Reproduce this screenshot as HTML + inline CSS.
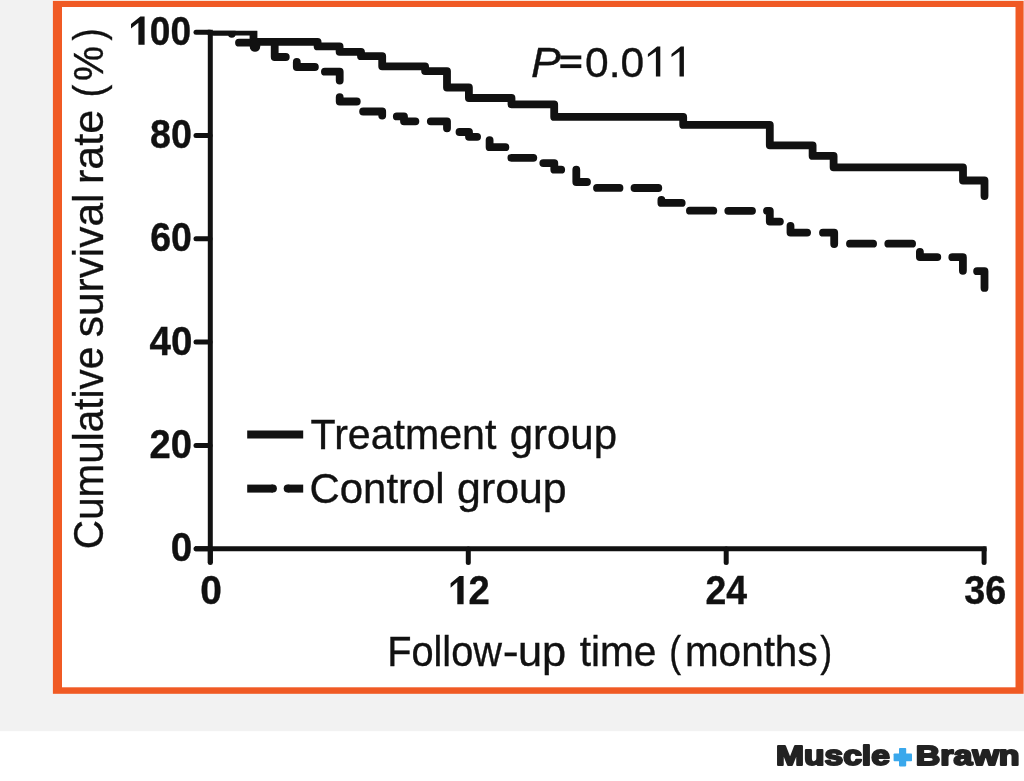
<!DOCTYPE html>
<html lang="en">
<head>
<meta charset="utf-8">
<title>Cumulative survival rate – Treatment vs Control</title>
<style>
  html, body { margin: 0; padding: 0; background: #ffffff; }
  body { width: 1024px; height: 781px; overflow: hidden; position: relative;
         font-family: "Liberation Sans", sans-serif; }
  svg { position: absolute; left: 0; top: 0; display: block; will-change: transform; }
  text { font-family: "Liberation Sans", sans-serif; fill: #111111; stroke: #111111; stroke-width: 0.35px; }
  .b { font-weight: bold; font-size: 41px; stroke: #111111; stroke-width: 0.4px; }
  .one { fill: #111111; stroke: none; }
  .lg text { font-weight: bold; font-size: 27.6px; fill: #222222; stroke: #222222; stroke-width: 2px; stroke-linejoin: round; }
  .b text { stroke-width: 0.4px; }
  .r { font-size: 42px; }
  .ax { stroke: #111111; stroke-width: 5; fill: none; stroke-linecap: butt; }
  .tk { stroke: #111111; stroke-width: 5; fill: none; stroke-linecap: round; }
  .solid { stroke: #111111; stroke-width: 7.8; fill: none; stroke-linejoin: round; stroke-linecap: round; }
  .dash  { stroke: #111111; stroke-width: 7.8; fill: none; stroke-linejoin: round; stroke-linecap: round; }
</style>
</head>
<body>
<svg width="1024" height="781" viewBox="0 0 1024 781">
  <!-- page background -->
  <rect x="0" y="0" width="1024" height="731.4" fill="#f2f2f2"/>
  <rect x="0" y="731.4" width="1024" height="50" fill="#ffffff"/>

  <!-- orange frame + white card -->
  <rect x="53" y="0" width="971" height="1" fill="#faf4ee"/>
  <rect x="52.9" y="0.9" width="970.7" height="692.9" fill="#f05a24"/>
  <rect x="62" y="7" width="953.5" height="680.3" fill="#ffffff"/>

  <!-- axes -->
  <g id="axes">
    <line class="ax" x1="210.3" y1="29.8" x2="210.3" y2="563" />
    <line class="ax" x1="195" y1="548.7" x2="986.6" y2="548.7" />
    <!-- y ticks -->
    <line class="tk" x1="196" y1="32.2"  x2="210" y2="32.2"/>
    <line class="tk" x1="196" y1="135.5" x2="210" y2="135.5"/>
    <line class="tk" x1="196" y1="238.8" x2="210" y2="238.8"/>
    <line class="tk" x1="196" y1="342.1" x2="210" y2="342.1"/>
    <line class="tk" x1="196" y1="445.4" x2="210" y2="445.4"/>
    <line class="tk" x1="196" y1="548.7" x2="210" y2="548.7"/>
    <!-- x ticks -->
    <line class="tk" x1="210.3" y1="549" x2="210.3" y2="562.5"/>
    <line class="tk" x1="468.3" y1="549" x2="468.3" y2="562.5"/>
    <line class="tk" x1="726.2" y1="549" x2="726.2" y2="562.5"/>
    <line class="tk" x1="984.1" y1="549" x2="984.1" y2="562.5"/>
  </g>

  <!-- y tick labels -->
  <g class="b">
    <path class="one" d="M138.4 44.8 V22.8 L131 28.5 V23.9 L140.4 16.4 H144.6 V44.8 Z"/>
    <text transform="translate(149.78,44.9) scale(0.9054,1)">00</text>
    <text transform="translate(150.05,148.0) scale(0.9197,1)">80</text>
    <text transform="translate(150.28,251.2) scale(0.9146,1)">60</text>
    <text transform="translate(149.57,354.6) scale(0.9399,1)">40</text>
    <text transform="translate(149.53,457.7) scale(0.9317,1)">20</text>
    <text transform="translate(170.72,561.4) scale(0.9436,1)">0</text>
  </g>
  <!-- x tick labels -->
  <g class="b">
    <text transform="translate(200.31,604.3) scale(0.9488,1)">0</text>
    <path class="one" d="M457.3 604.2 V582 L450.6 587.8 V583.3 L459.4 575.9 H463.6 V604.2 Z"/>
    <text transform="translate(468.53,604.3) scale(0.9322,1)">2</text>
    <text transform="translate(705.55,604.3) scale(0.9121,1)">24</text>
    <text transform="translate(964.28,604.3) scale(0.9217,1)">36</text>
  </g>

  <!-- axis titles -->
  <g style="font-size:42px">
    <text transform="translate(387.14,665.5) scale(0.9464,1)">Follow</text>
    <text transform="translate(502.87,665.5) scale(1.1410,1)">-</text>
    <text transform="translate(517.88,665.5) scale(1.0325,1)">up</text>
    <text transform="translate(579.69,665.5) scale(0.9669,1)">time</text>
    <text transform="translate(669.15,665.5) scale(0.85,1)">(</text>
    <text transform="translate(684.91,665.5) scale(0.9638,1)">months</text>
    <text transform="translate(820.16,665.5) scale(0.85,1)">)</text>
  </g>
  <g style="font-size:42.8px">
    <text transform="translate(103.1,549.16) rotate(-90) scale(0.9462,1)">Cumulative</text>
    <text transform="translate(103.1,337.28) rotate(-90) scale(0.9913,1)">survival</text>
    <text transform="translate(103.1,184.06) rotate(-90) scale(1.0071,1)">rate</text>
    <text transform="translate(103.1,97.39) rotate(-90) scale(0.8988,1)">(</text>
    <text transform="translate(103.1,81.10) rotate(-90) scale(0.9199,1)">%</text>
    <text transform="translate(103.1,40.41) rotate(-90) scale(0.8548,1)">)</text>
  </g>

  <!-- P value -->
  <g style="font-size:42.4px">
    <text transform="translate(530.9,76.5) scale(1.05,1)" font-style="italic">P</text>
    <rect class="one" x="560.3" y="55.5" width="21" height="3.8"/>
    <rect class="one" x="560.3" y="64.3" width="21" height="3.8"/>
    <text transform="translate(585.09,76.5) scale(1.0049,1)">0.0</text>
    <path class="one" d="M655.9 76.5 V51.6 L647.9 57 V54 L657.2 46.5 H660.3 V76.5 Z"/>
    <path class="one" d="M679.5 76.5 V51.6 L671.5 57 V54 L680.8 46.5 H683.9 V76.5 Z"/>
  </g>

  <!-- legend -->
  <line x1="247.2" y1="434.4" x2="303.2" y2="434.4" stroke="#111111" stroke-width="8"/>
  <path d="M247.2 488.6 H272.9" stroke="#111111" stroke-width="8" fill="none"/>
  <circle cx="272.9" cy="488.6" r="4" fill="#111111"/>
  <path d="M287.7 488.6 H303.2" stroke="#111111" stroke-width="8" fill="none"/>
  <circle cx="287.7" cy="488.6" r="4" fill="#111111"/>
  <g style="font-size:42px">
    <text transform="translate(310.58,449) scale(0.9794,1)">Treatment</text>
    <text transform="translate(509.74,449) scale(0.9991,1)">group</text>
    <text transform="translate(309.47,503.2) scale(0.9988,1)">Control</text>
    <text transform="translate(457.10,503.2) scale(1.0203,1)">group</text>
  </g>

  <!-- curves -->
  <defs>
    <clipPath id="plotclip"><rect x="205" y="30.8" width="800" height="530"/></clipPath>
  </defs>
  <g clip-path="url(#plotclip)">
    <path class="solid" d="M210.3 31.5 H253.5 V41.8 H317.6 V46.4 H339.6 V51.8 H361 V56.2 H382.2 V66.3 H425.1 V71.1 H447 V87.5 H468.9 V98 H511.5 V104.4 H554.2 V116.9 H683.2 V124.9 H769.8 V145.3 H812.6 V155.9 H833.6 V167.3 H963 V180.5 H984.5 V196.1"/>
    <g class="dash">
      <path d="M214 31.5 H231.8 V33.8"/>
      <path d="M239 42.7 H255 V46.8"/>
      <path d="M255 44 V46.6" stroke-width="10.5"/>
      <path d="M274.7 44 V57 H285.8"/>
      <path d="M296.8 62 V67 H314.9"/>
      <path d="M324.9 71.7 H339.7 V80.5"/>
      <path d="M339.7 97.2 V101.5 H356.8"/>
      <path d="M363.1 111.5 H382.2 V115.5"/>
      <path d="M396.8 116.4 H404 V121.3 H415.4"/>
      <path d="M430.8 121.3 H447 V128.3"/>
      <path d="M459.5 132 H469 V136.8 H477.1"/>
      <path d="M489.6 140.1 V147.2 H505.4"/>
      <path d="M511.4 157.8 H533.3"/>
      <path d="M543.3 163.1 H554.3 V169.7 H561.2"/>
      <path d="M576.3 169.7 V182 H587"/>
      <path d="M597 187.9 H619.5"/>
      <path d="M634.5 188 H658.3"/>
      <path d="M661.4 200 V202.9 H681.7"/>
      <path d="M689.9 210.7 H713.3"/>
      <path d="M728.3 210.8 H752"/>
      <path d="M767 210.8 H769.8 V221.6 H779.9"/>
      <path d="M790.5 225.8 V232.6 H807.1"/>
      <path d="M823 232.7 H834.2 V244"/>
      <path d="M850 243.7 H873.1"/>
      <path d="M888.3 243.7 H912.1"/>
      <path d="M919.9 251.8 V257.1 H937.3"/>
      <path d="M952.3 257.2 H962.9 V270.8"/>
      <path d="M977.1 271.2 H984.5 V287.9"/>
    </g>
  </g>

  <!-- footer logo -->
  <g id="logo">
    <g class="lg">
      <text transform="translate(775.95,764.5) scale(1.218,1)">Muscle</text>
      <text transform="translate(915.73,764.5) scale(1.232,1)">Brawn</text>
    </g>
    <rect x="899" y="748" width="7.2" height="18.4" rx="0.8" fill="#3aa8ec"/>
    <rect x="893.6" y="753.5" width="18.4" height="7.7" rx="0.8" fill="#3aa8ec"/>
  </g>

</svg>
</body>
</html>
